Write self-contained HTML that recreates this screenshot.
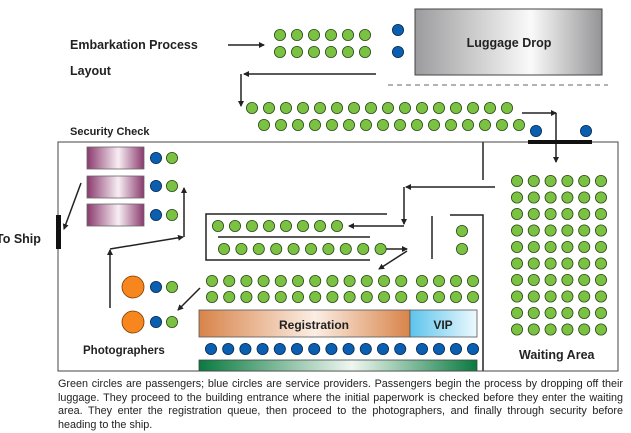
<!DOCTYPE html>
<html><head><meta charset="utf-8"><style>
html,body{margin:0;padding:0;background:#fff;}
body{width:631px;height:431px;overflow:hidden;position:relative;font-family:"Liberation Sans",sans-serif;}
svg{position:absolute;left:0;top:0;}
.cap{position:absolute;left:58px;top:378px;width:565px;font-size:10.8px;line-height:13.7px;color:#222;text-align:justify;text-align-last:left;}
</style></head><body>
<svg width="631" height="431" viewBox="0 0 631 431">
<defs>
<linearGradient id="gray" x1="0" x2="1"><stop offset="0" stop-color="#9c9c9e"/><stop offset="0.62" stop-color="#fafafa"/><stop offset="1" stop-color="#949496"/></linearGradient>
<linearGradient id="purp" x1="0" x2="1"><stop offset="0" stop-color="#8a3a6e"/><stop offset="0.55" stop-color="#f8eef4"/><stop offset="1" stop-color="#8a3a6e"/></linearGradient>
<linearGradient id="org" x1="0" x2="1"><stop offset="0" stop-color="#d8844a"/><stop offset="0.55" stop-color="#fbeee4"/><stop offset="1" stop-color="#d8844a"/></linearGradient>
<linearGradient id="vip" x1="0" x2="1"><stop offset="0" stop-color="#5cc4ec"/><stop offset="1" stop-color="#eef9fd"/></linearGradient>
<linearGradient id="grn" x1="0" x2="1"><stop offset="0" stop-color="#0a7a40"/><stop offset="0.55" stop-color="#eef6f0"/><stop offset="1" stop-color="#0a7a40"/></linearGradient>
<marker id="ah" markerWidth="6" markerHeight="6" refX="5" refY="3" orient="auto" markerUnits="userSpaceOnUse"><path d="M0,0 L6,3 L0,6 z" fill="#222"/></marker>
<g id="g"><circle r="5.6" fill="#7cc242" stroke="#2a4a1a" stroke-width="0.8"/></g>
<g id="b"><circle r="5.6" fill="#0a5fb0" stroke="#0a2a50" stroke-width="0.8"/></g>
</defs>
<g font-weight="bold" font-size="12.5" fill="#222">
<text x="70" y="49">Embarkation Process</text>
<text x="70" y="75">Layout</text>
<text x="70" y="135" font-size="11">Security Check</text>
<text x="-4" y="243" font-size="12.5">To Ship</text>
<text x="83" y="354" font-size="11.5">Photographers</text>
<text x="519" y="359" font-size="12.5">Waiting Area</text>
</g>
<g stroke="#222" stroke-width="1.5" fill="none">
<line x1="228" y1="45" x2="264" y2="45" marker-end="url(#ah)"/>
<line x1="376" y1="74" x2="244" y2="74" marker-end="url(#ah)"/>
<line x1="241" y1="74" x2="241" y2="106" marker-end="url(#ah)"/>
<line x1="522" y1="113" x2="556" y2="113" marker-end="url(#ah)"/>
<line x1="556" y1="113" x2="556" y2="162" marker-end="url(#ah)"/>
<line x1="483" y1="142" x2="483" y2="180"/>
<line x1="495" y1="187" x2="406" y2="187" marker-end="url(#ah)"/>
<line x1="404" y1="187" x2="404" y2="224" marker-end="url(#ah)"/>
<line x1="404" y1="226" x2="349" y2="226" marker-end="url(#ah)"/>
<polyline points="387,214 206,214 206,260 370,260"/>
<line x1="218" y1="237" x2="370" y2="237"/>
<line x1="384" y1="249" x2="407" y2="249" marker-end="url(#ah)"/>
<line x1="407" y1="251" x2="379" y2="269" marker-end="url(#ah)"/>
<line x1="432" y1="216" x2="432" y2="259"/>
<polyline points="450,215 483,215 483,371"/>
<line x1="200" y1="288" x2="178" y2="310" marker-end="url(#ah)"/>
<line x1="110" y1="308" x2="110" y2="250" marker-end="url(#ah)"/>
<line x1="110" y1="249" x2="183" y2="237" marker-end="url(#ah)"/>
<line x1="184" y1="237" x2="184" y2="188" marker-end="url(#ah)"/>
<line x1="81" y1="183" x2="64" y2="229" marker-end="url(#ah)"/>
</g>
<line x1="388" y1="85" x2="608" y2="85" stroke="#666" stroke-width="1" stroke-dasharray="5,4"/>
<rect x="58" y="142" width="560" height="229" fill="none" stroke="#444" stroke-width="1"/>
<rect x="528" y="140" width="64" height="4" fill="#111"/>
<rect x="56" y="215" width="5" height="34" fill="#111"/>
<rect x="415" y="9" width="187" height="66" fill="url(#gray)" stroke="#444" stroke-width="1"/>
<text x="509" y="47" text-anchor="middle" font-weight="bold" font-size="12.5" fill="#222">Luggage Drop</text>
<rect x="87" y="147" width="57" height="22" fill="url(#purp)" stroke="#666" stroke-width="0.8"/>
<rect x="87" y="176" width="57" height="22" fill="url(#purp)" stroke="#666" stroke-width="0.8"/>
<rect x="87" y="204" width="57" height="22" fill="url(#purp)" stroke="#666" stroke-width="0.8"/>
<circle cx="133" cy="287" r="11" fill="#f7861e" stroke="#7a3a00" stroke-width="0.8"/>
<circle cx="133" cy="322" r="11" fill="#f7861e" stroke="#7a3a00" stroke-width="0.8"/>
<rect x="199" y="310" width="211" height="27" fill="url(#org)" stroke="#555" stroke-width="0.8"/>
<rect x="410" y="310" width="67" height="27" fill="url(#vip)" stroke="#555" stroke-width="0.8"/>
<text x="314" y="329" text-anchor="middle" font-weight="bold" font-size="12" fill="#222">Registration</text>
<text x="443" y="329" text-anchor="middle" font-weight="bold" font-size="12" fill="#222">VIP</text>
<rect x="199" y="360" width="278" height="11" fill="url(#grn)" stroke="#444" stroke-width="0.8"/>
<g id="dots"></g>
</svg>
<div class="cap">Green circles are passengers; blue circles are service providers. Passengers begin the process by dropping off their luggage. They proceed to the building entrance where the initial paperwork is checked before they enter the waiting area. They enter the registration queue, then proceed to the photographers, and finally through security before heading to the ship.</div>
<script>
var NS='http://www.w3.org/2000/svg',d=document.getElementById('dots');
function c(x,y,t){var u=document.createElementNS(NS,'use');u.setAttribute('href','#'+t);u.setAttribute('x',x);u.setAttribute('y',y);d.appendChild(u);}
var i,j;
for(i=0;i<6;i++){c(280+i*17,35,'g');c(280+i*17,52,'g');}
c(398,30,'b');c(398,52,'b');
for(i=0;i<16;i++){c(252+i*17,108,'g');c(264+i*17,125,'g');}
c(536,131,'b');c(586,131,'b');
for(j=0;j<10;j++)for(i=0;i<6;i++)c(517+i*16.8,181+j*16.5,'g');
for(i=0;i<8;i++)c(218+i*17,226,'g');
for(i=0;i<10;i++)c(224+i*17.4,249,'g');
c(462,231,'g');c(462,249,'g');
for(i=0;i<12;i++){c(212+i*17.2,281,'g');c(212+i*17.2,297,'g');c(211+i*17.2,349,'b');}
for(i=0;i<4;i++){c(422+i*17,281,'g');c(422+i*17,297,'g');c(422+i*17,349,'b');}
[158,186,215].forEach(function(y){c(156,y,'b');c(172,y,'g');});
[287,322].forEach(function(y){c(156,y,'b');c(172,y,'g');});
</script>
</body></html>
